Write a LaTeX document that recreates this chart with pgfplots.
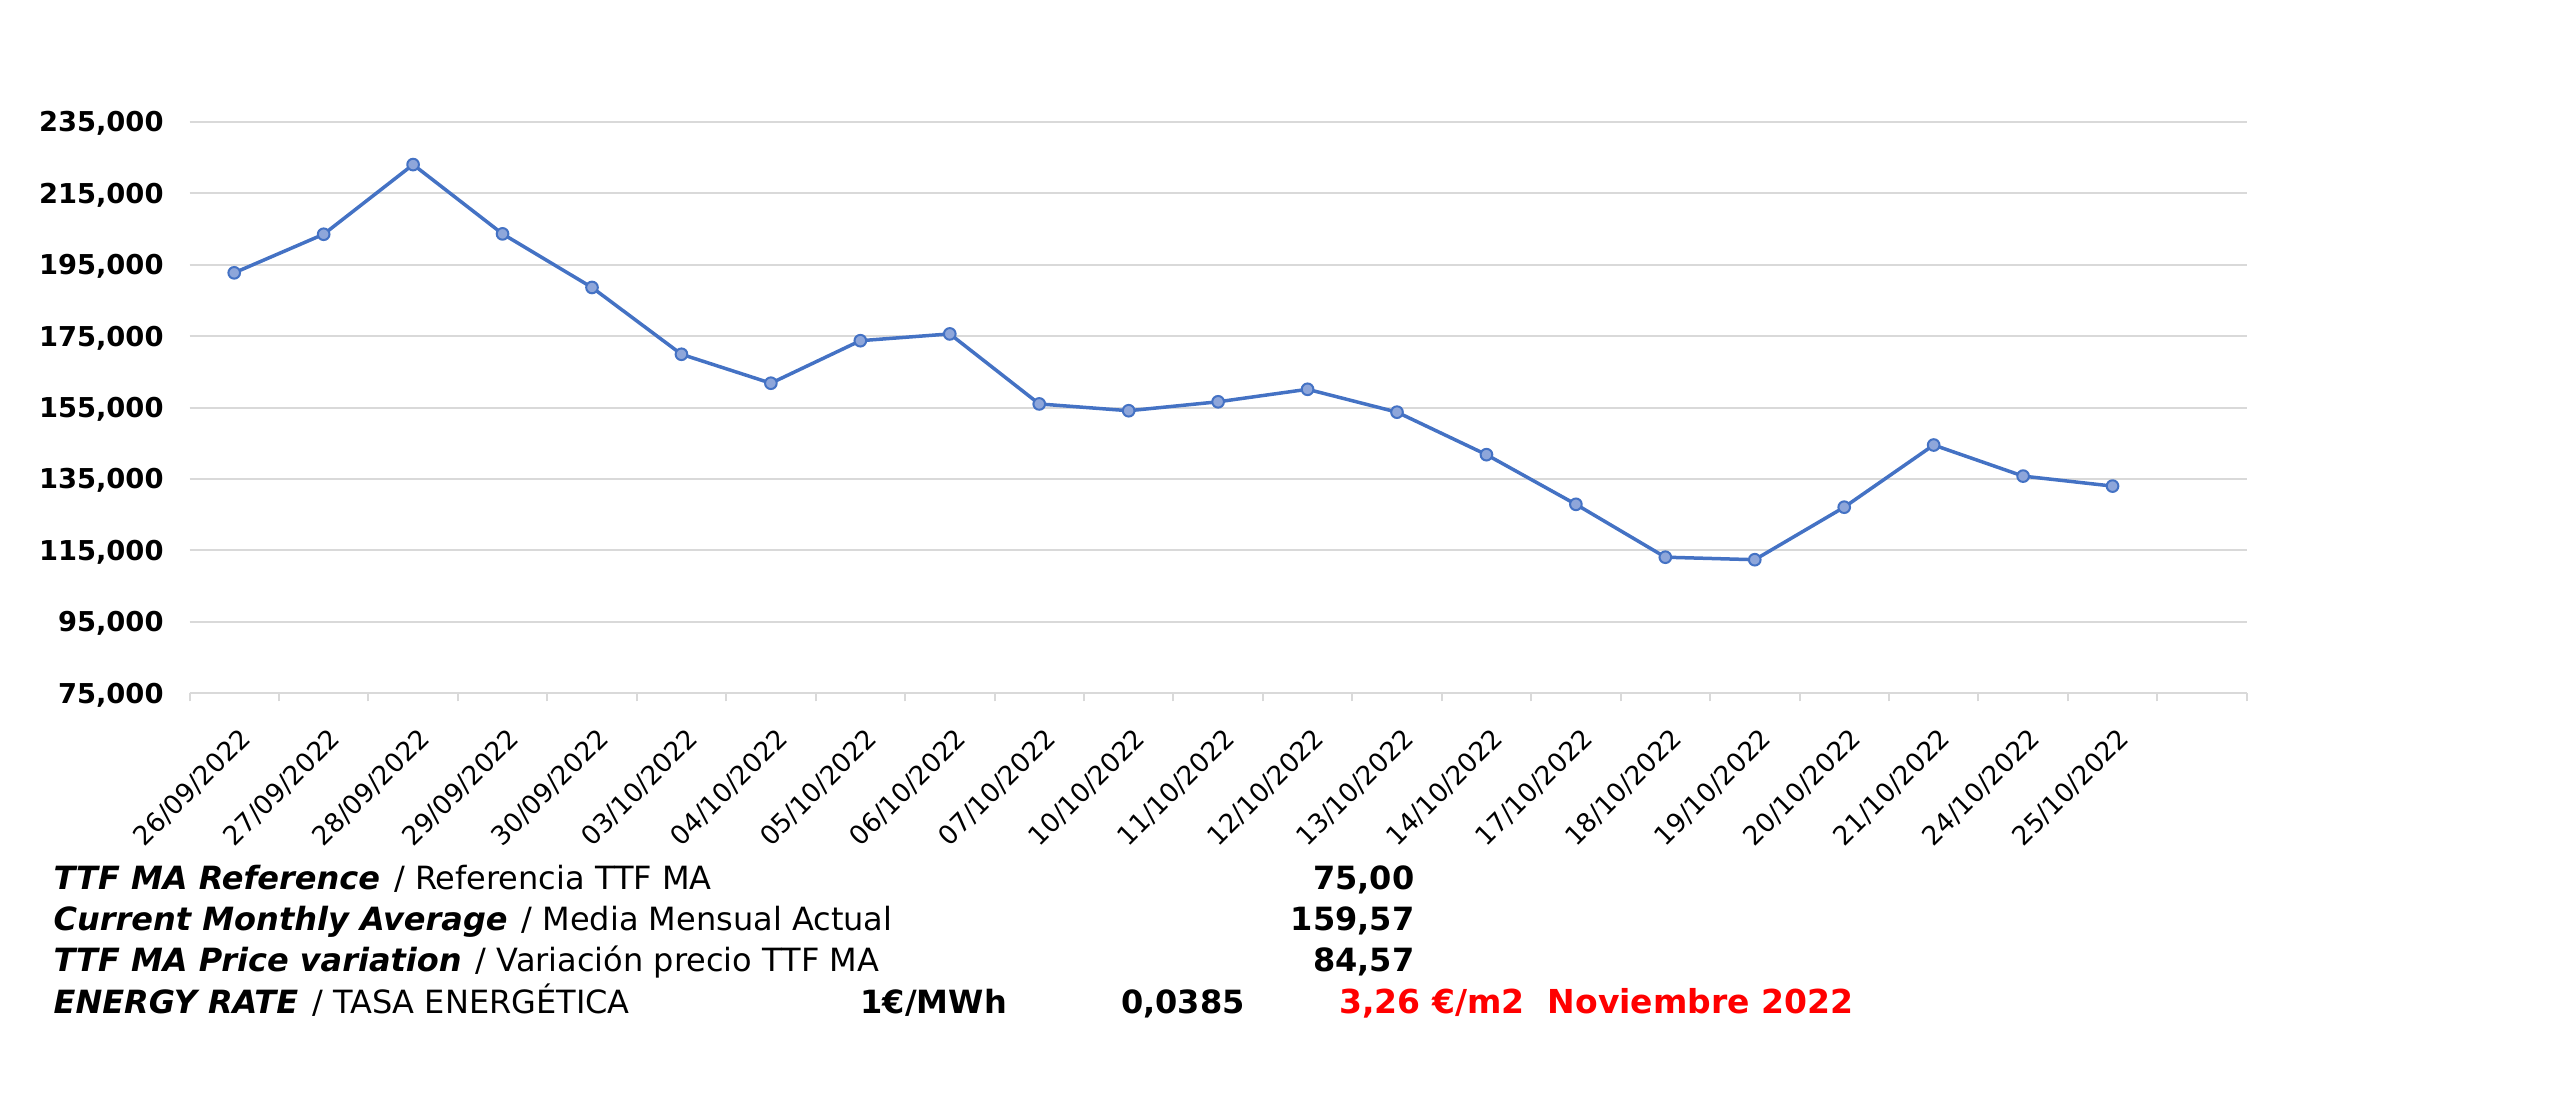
\documentclass[border=0pt]{standalone}
\usepackage{fontspec}
\setmainfont{DejaVu Sans}
\usepackage{pgfplots}
\pgfplotsset{compat=1.18}

\definecolor{lineblue}{HTML}{4472C4}
\definecolor{markfill}{HTML}{8EA6DA}
\definecolor{gridgray}{HTML}{D9D9D9}
\definecolor{notered}{HTML}{FF0000}

\newcommand{\notefont}{\fontsize{9.6}{11}\selectfont}

\begin{document}
\begin{tikzpicture}
% page frame: 768pt x 329.1pt, origin at the top-left corner
\useasboundingbox (0pt,0pt) rectangle (768pt,-329.1pt);

\begin{axis}[
  at={(56.85pt,-207.99pt)}, anchor=south west,
  scale only axis, width=617.16pt, height=171.48pt,
  xmin=-0.5, xmax=22.5, ymin=75, ymax=235,
  axis x line*=bottom, axis y line*=left,
  y axis line style={draw=none},
  x axis line style={draw=gridgray, line width=0.6pt, -},
  tick align=outside,
  major tick length=0pt,
  ytick={75,95,115,135,155,175,195,215,235},
  ymajorgrids,
  major grid style={draw=gridgray, line width=0.6pt},
  ytick style={draw=none},
  yticklabel style={
    /pgf/number format/fixed,
    /pgf/number format/fixed zerofill,
    /pgf/number format/precision=3,
    /pgf/number format/use comma,
    /pgf/number format/assume math mode=true,
    font=\fontsize{8.2}{9}\selectfont\bfseries,
    anchor=base east, inner sep=0pt, xshift=-7.6pt, yshift=-3pt},
  xtick={0,...,21},
  xticklabels={26/09/2022,27/09/2022,28/09/2022,29/09/2022,30/09/2022,
    03/10/2022,04/10/2022,05/10/2022,06/10/2022,07/10/2022,10/10/2022,
    11/10/2022,12/10/2022,13/10/2022,14/10/2022,17/10/2022,18/10/2022,
    19/10/2022,20/10/2022,21/10/2022,24/10/2022,25/10/2022},
  major x tick style={draw=none},
  minor xtick={-0.5,0.5,1.5,2.5,3.5,4.5,5.5,6.5,7.5,8.5,9.5,10.5,11.5,
    12.5,13.5,14.5,15.5,16.5,17.5,18.5,19.5,20.5,21.5,22.5},
  minor tick length=2.4pt,
  minor x tick style={draw=gridgray, line width=0.6pt},
  xticklabel style={font=\fontsize{7.9}{9}\selectfont, inner sep=0pt,
    xshift=3.75pt, yshift=-12.1pt, rotate=45, anchor=east},
  clip=false,
]
\addplot[color=lineblue, line width=1.05pt, mark=*, mark size=1.75pt,
  mark options={fill=markfill, draw=lineblue, line width=0.6pt}]
  table {
x y
0 192.7
1 203.5
2 223.0
3 203.6
4 188.6
5 169.9
6 161.8
7 173.7
8 175.6
9 156.0
10 154.1
11 156.6
12 160.1
13 153.7
14 141.8
15 127.9
16 113.1
17 112.4
18 127.1
19 144.5
20 135.8
21 133.0
};
\end{axis}

% summary block below the chart
\begin{scope}[every node/.style={inner sep=0pt, font=\notefont}]
\node[anchor=base west] at (15.9pt,-266.7pt)
  {\textbf{\textit{TTF MA Reference}}\hspace{0.12em} / Referencia TTF MA};
\node[anchor=base west] at (15.9pt,-279pt)
  {\textbf{\textit{Current Monthly Average}}\hspace{0.12em} / Media Mensual Actual};
\node[anchor=base west] at (15.9pt,-291.3pt)
  {\textbf{\textit{TTF MA Price variation}}\hspace{0.12em} / Variación precio TTF MA};
\node[anchor=base west] at (15.9pt,-303.9pt)
  {\textbf{\textit{ENERGY RATE}}\hspace{0.12em} / TASA ENERGÉTICA};

\node[anchor=base east] at (424.5pt,-266.7pt) {\textbf{75,00}};
\node[anchor=base east] at (424.5pt,-279pt) {\textbf{159,57}};
\node[anchor=base east] at (424.5pt,-291.3pt) {\textbf{84,57}};

\node[anchor=base west] at (258pt,-303.9pt) {\textbf{1€/MWh}};
\node[anchor=base west] at (336.15pt,-303.9pt) {\textbf{0,0385}};
\node[anchor=base west, text=notered, font=\fontsize{9.9}{11}\selectfont]
  at (401.6pt,-303.9pt)
  {\textbf{3,26 €/m2\hspace{0.7em}Noviembre 2022}};
\end{scope}
\end{tikzpicture}
\end{document}
